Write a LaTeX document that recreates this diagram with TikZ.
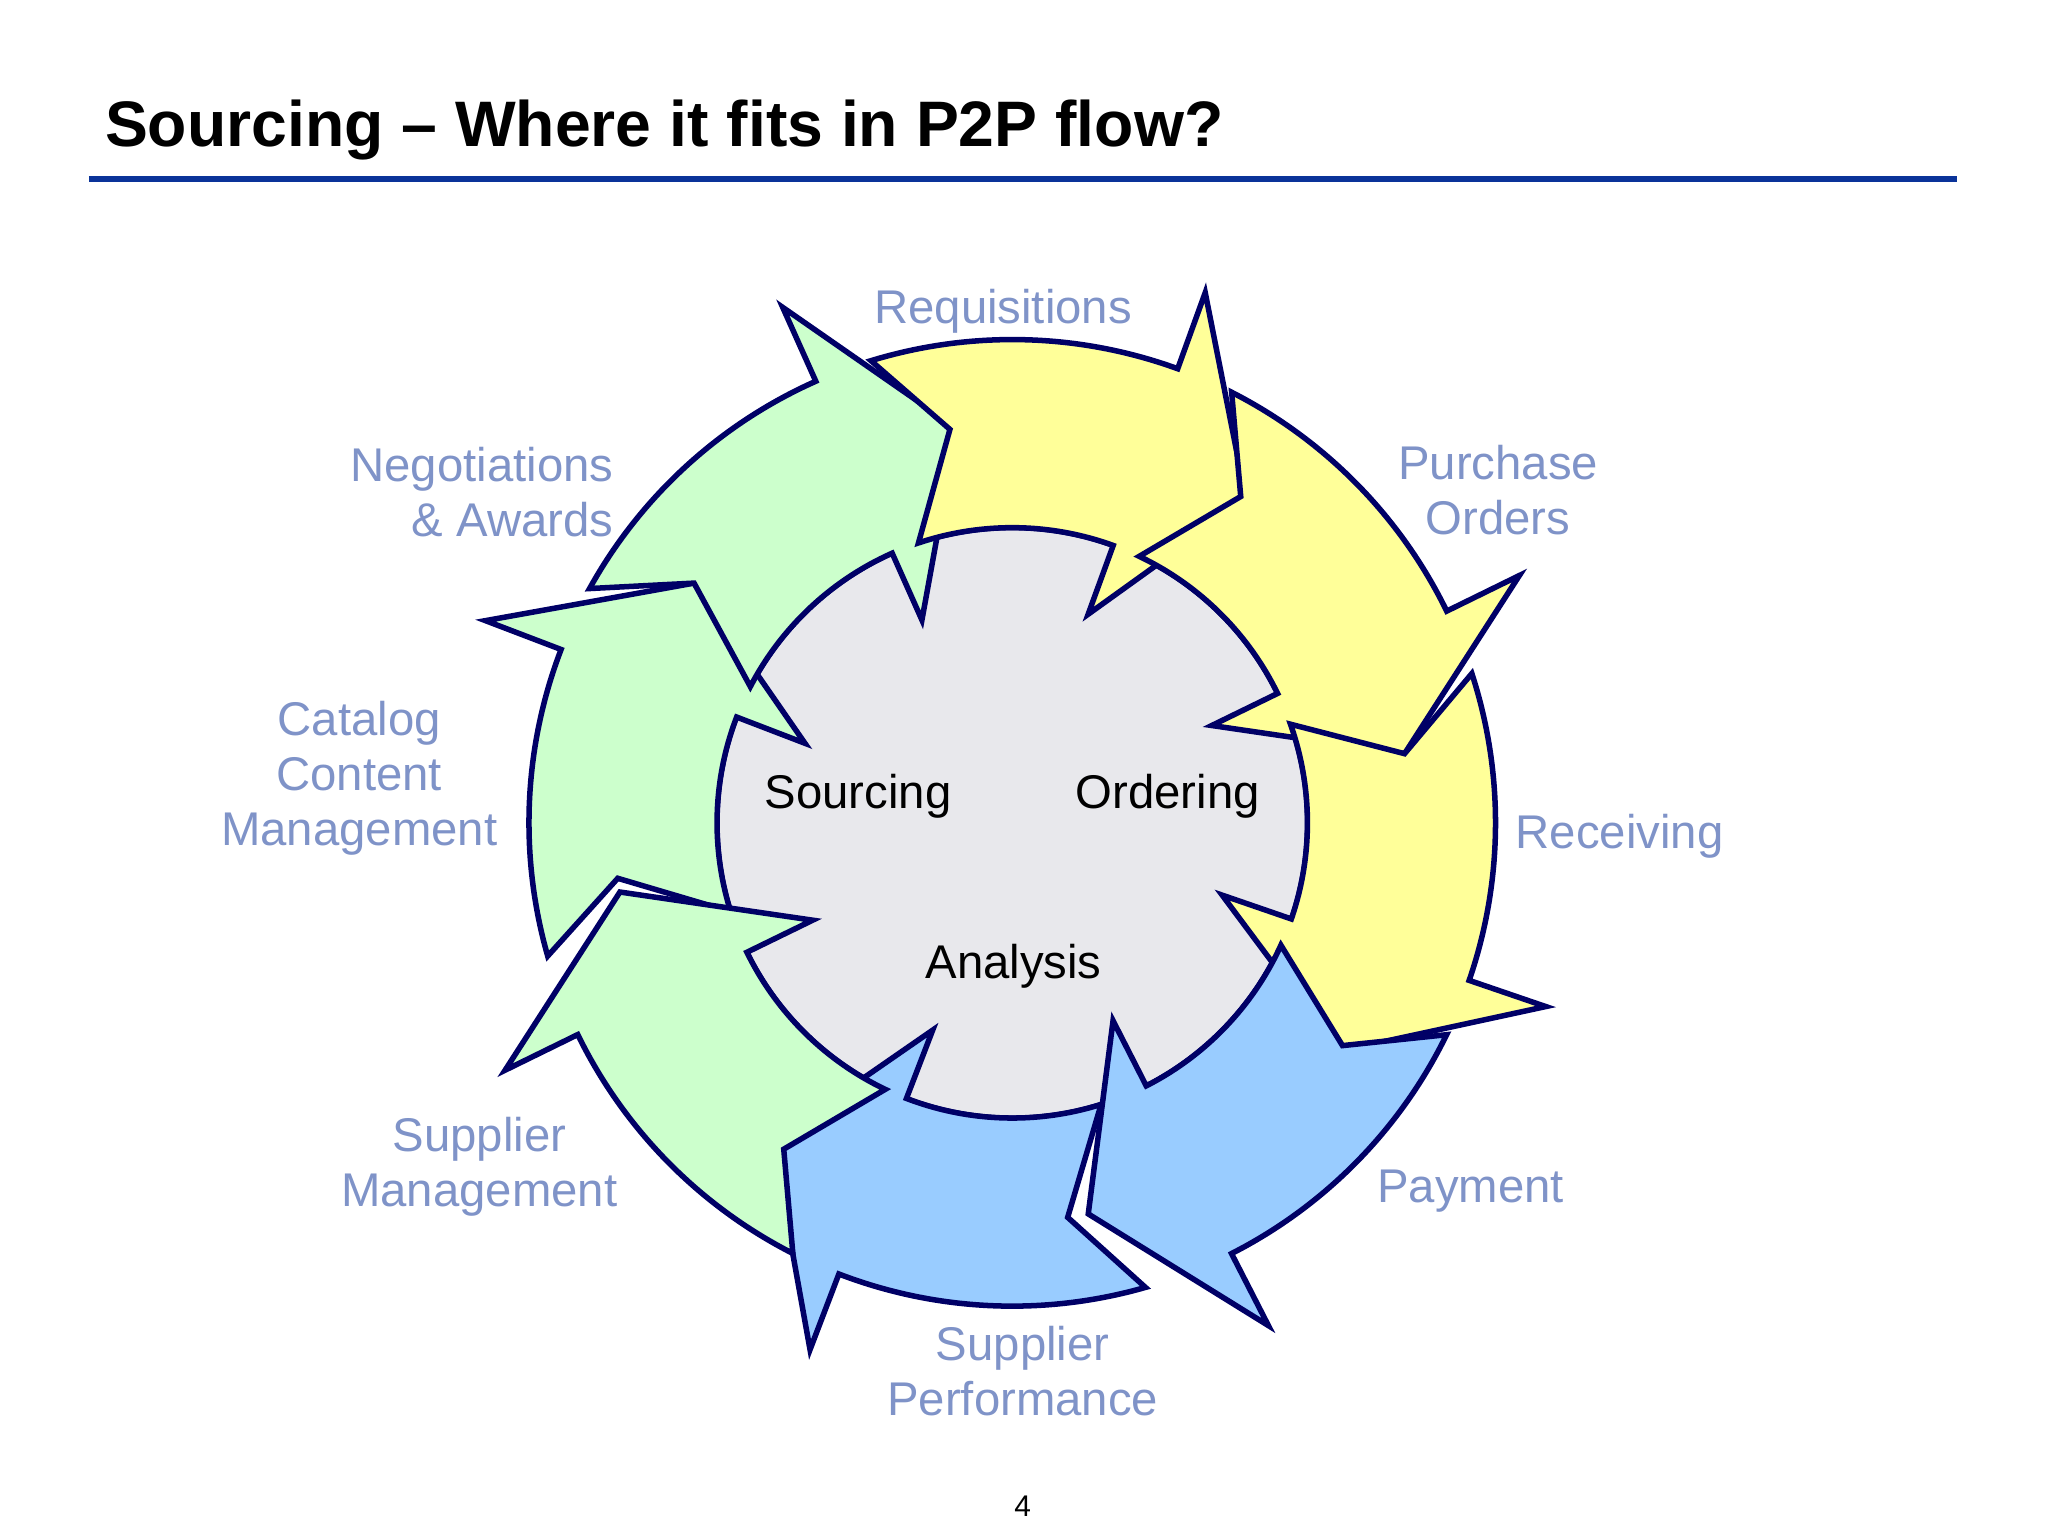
\documentclass[tikz,border=0pt]{standalone}
\usepackage{fontspec}
\setmainfont{Liberation Sans}
\definecolor{navy}{HTML}{000066}
\definecolor{gA}{HTML}{CCFFCC}
\definecolor{yA}{HTML}{FFFF99}
\definecolor{bA}{HTML}{99CCFF}
\definecolor{lbl}{HTML}{7F93C8}
\definecolor{rule}{HTML}{0A3399}
\newcommand{\cyarrow}[2]{%
  \pgfmathsetmacro{\tp}{#2}\pgfmathsetmacro{\bs}{#2+16}%
  \pgfmathsetmacro{\pt}{#2+45}\pgfmathsetmacro{\po}{#2+61-8}\pgfmathsetmacro{\pi}{#2+61-6.5}%
  \draw[arw,fill=#1] (\po:370) arc[start angle=\po,end angle=\bs,radius=3.7cm] -- (\bs:432) -- (\tp:305) -- (\bs:170) -- (\bs:226)
    arc[start angle=\bs,end angle=\pi,radius=2.26cm] -- (\pt:305) -- cycle;}
\begin{document}
\begin{tikzpicture}[x=0.01cm,y=0.01cm,
  arw/.style={draw=navy,line width=1.2pt,line join=miter},
  lab/.style={text=lbl,font=\fontsize{10.3}{12}\selectfont,align=center},
  ctr/.style={text=black,font=\fontsize{10.3}{12}\selectfont}]
\useasboundingbox (0,0) rectangle (1568,-1176);
\node[anchor=base west,font=\fontsize{14}{16}\selectfont\bfseries] (title) at (68,-112) {Sourcing -- Where it fits in P2P flow?};
\draw[rule,line width=1.2pt] (68,-137) coordinate (r1) -- (1498,-137) coordinate (r2);
\begin{scope}[shift={(775,-630)}]
\fill[fill={rgb,255:red,232;green,232;blue,236}] (0,0) circle[radius=2.3cm];
\draw[navy,line width=1.2pt] (0,0) circle[radius=2.26cm];
\cyarrow{gA}{143}
\cyarrow{gA}{98}
\cyarrow{yA}{54}
\cyarrow{yA}{10}
\cyarrow{yA}{-35}
\cyarrow{bA}{-79}
\cyarrow{bA}{-127}
\cyarrow{gA}{-170}
\end{scope}
\node[ctr] (s) at (657,-610) {Sourcing};
\node[ctr] (o) at (894,-610) {Ordering};
\node[ctr] (a) at (776,-740) {Analysis};
\node[lab] (l1) at (768,-238) {Requisitions};
\node[lab] (l2) at (1147,-375) {Purchase\\Orders};
\node[lab] (l3) at (1240,-640) {Receiving};
\node[lab] (l4) at (1126,-912) {Payment};
\node[lab] (l5) at (783,-1050) {Supplier\\Performance};
\node[lab] (l6) at (367,-893) {Supplier\\Management};
\node[lab] (l7) at (275,-596) {Catalog\\Content\\Management};
\node[lab,align=right] (l8) at (369,-377) {Negotiations\\\& Awards};
\node[font=\fontsize{6.5}{8}\selectfont] (pg) at (783,-1153) {4};
\end{tikzpicture}
\end{document}
